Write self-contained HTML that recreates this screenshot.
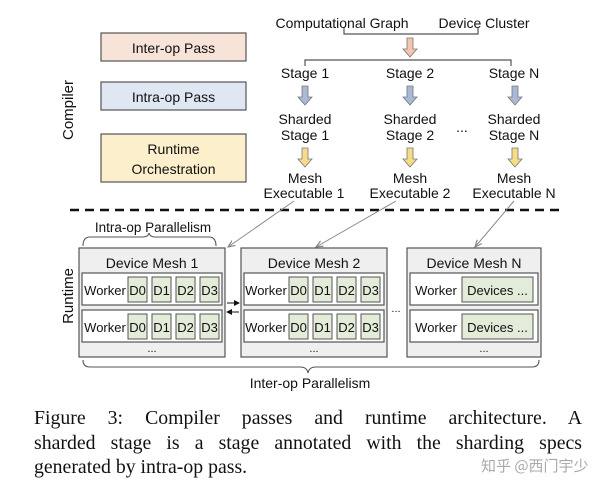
<!DOCTYPE html>
<html><head><meta charset="utf-8"><style>
body{margin:0;background:#fff;width:600px;height:491px;overflow:hidden;position:relative}
svg{position:absolute;left:0;top:0}
svg text{font-family:"Liberation Sans",sans-serif;fill:#111}
.cap{position:absolute;left:34px;width:548px;font-family:"Liberation Serif",serif;font-size:19.8px;color:#111;text-align:justify;text-align-last:justify;line-height:24.5px;top:406px}
.wm{position:absolute;left:481px;top:455px;font-family:"Noto Sans CJK SC",sans-serif;font-size:15px;color:#aaa}
</style></head><body>
<svg width="600" height="491" viewBox="0 0 600 491">
<defs>
<marker id="ah" markerWidth="8" markerHeight="8" refX="7" refY="4" orient="auto" markerUnits="userSpaceOnUse"><path d="M0,1 L7,4 L0,7" fill="none" stroke="#888" stroke-width="1.2"/></marker>
<marker id="bk" markerWidth="6" markerHeight="6" refX="5" refY="3" orient="auto" markerUnits="userSpaceOnUse"><path d="M0,0 L6,3 L0,6z" fill="#111"/></marker>
<g id="ao"><path d="M-3,0 h6 v11 h4 l-7,8 l-7,-8 h4z" fill="#f2c6ac" stroke="#777" stroke-width="0.8"/></g>
<g id="ab"><path d="M-3,0 h6 v11 h4 l-7,8 l-7,-8 h4z" fill="#a9b9d6" stroke="#777" stroke-width="0.8"/></g>
<g id="ay"><path d="M-3,0 h6 v11 h4 l-7,8 l-7,-8 h4z" fill="#f6dc88" stroke="#777" stroke-width="0.8"/></g>
</defs>
<rect x="101" y="33" width="145" height="28" fill="#f7e3d8" stroke="#555" stroke-width="1.2"/>
<text x="173.5" y="53" font-size="14" text-anchor="middle">Inter-op Pass</text>
<rect x="101" y="82" width="145" height="28" fill="#dfe7f3" stroke="#555" stroke-width="1.2"/>
<text x="173.5" y="102" font-size="14" text-anchor="middle">Intra-op Pass</text>
<rect x="101" y="134" width="145" height="48" fill="#fbefcc" stroke="#555" stroke-width="1.2"/>
<text x="173.5" y="154" font-size="14" text-anchor="middle">Runtime</text>
<text x="173.5" y="174" font-size="14" text-anchor="middle">Orchestration</text>
<text transform="translate(73,110) rotate(-90)" font-size="15" text-anchor="middle">Compiler</text>
<text transform="translate(73,296) rotate(-90)" font-size="15" text-anchor="middle">Runtime</text>
<text x="342" y="28" font-size="14" text-anchor="middle">Computational Graph</text>
<text x="484" y="28" font-size="14" text-anchor="middle">Device Cluster</text>
<path d="M344,28 V34 H478 V28" fill="none" stroke="#555" stroke-width="1.2"/>
<use href="#ao" x="410" y="38"/>
<path d="M305,66 V60 H511 V66" fill="none" stroke="#555" stroke-width="1.2"/>
<g font-size="14" text-anchor="middle">
<text x="305" y="78">Stage 1</text><text x="410" y="78">Stage 2</text><text x="514" y="78">Stage N</text>
<text x="305" y="124">Sharded</text><text x="305" y="140">Stage 1</text>
<text x="410" y="124">Sharded</text><text x="410" y="140">Stage 2</text>
<text x="514" y="124">Sharded</text><text x="514" y="140">Stage N</text>
<text x="462" y="132">...</text>
<text x="305" y="183">Mesh</text><text x="304" y="198">Executable 1</text>
<text x="410" y="183">Mesh</text><text x="410" y="198">Executable 2</text>
<text x="514" y="183">Mesh</text><text x="514" y="198">Executable N</text>
</g>
<use href="#ab" x="305" y="86"/><use href="#ab" x="410" y="86"/><use href="#ab" x="515" y="86"/>
<use href="#ay" x="305" y="148"/><use href="#ay" x="410" y="148"/><use href="#ay" x="515" y="148"/>
<line x1="70" y1="210" x2="563" y2="210" stroke="#111" stroke-width="2.5" stroke-dasharray="9,6"/>
<line x1="294" y1="201" x2="228" y2="247" stroke="#888" stroke-width="1" marker-end="url(#ah)"/>
<line x1="396" y1="201" x2="316" y2="247" stroke="#888" stroke-width="1" marker-end="url(#ah)"/>
<line x1="514" y1="201" x2="475" y2="247" stroke="#888" stroke-width="1" marker-end="url(#ah)"/>
<text x="153" y="232" font-size="13.5" text-anchor="middle">Intra-op Parallelism</text>
<path d="M83,246 Q83,237 90,237 H143 Q148,237 149,233 Q150,237 155,237 H209 Q216,237 216,246" fill="none" stroke="#555" stroke-width="1.1"/>
<g stroke="#555" stroke-width="1.2">
<rect x="79" y="248" width="146" height="109" fill="#efefef"/>
<rect x="241" y="248" width="146" height="109" fill="#efefef"/>
<rect x="407" y="248" width="134" height="109" fill="#efefef"/>
<rect x="82" y="273" width="140" height="32" fill="#fff"/><rect x="82" y="310" width="140" height="32" fill="#fff"/>
<rect x="244" y="273" width="140" height="32" fill="#fff"/><rect x="244" y="310" width="140" height="32" fill="#fff"/>
<rect x="410" y="273" width="128" height="32" fill="#fff"/><rect x="410" y="310" width="128" height="32" fill="#fff"/>
</g>
<g stroke="#555" stroke-width="1" fill="#e2ecd8">
<rect x="128" y="277" width="19" height="25"/><rect x="152" y="277" width="19" height="25"/><rect x="176" y="277" width="19" height="25"/><rect x="200" y="277" width="19" height="25"/>
<rect x="128" y="314" width="19" height="25"/><rect x="152" y="314" width="19" height="25"/><rect x="176" y="314" width="19" height="25"/><rect x="200" y="314" width="19" height="25"/>
<rect x="289" y="277" width="19" height="25"/><rect x="313" y="277" width="19" height="25"/><rect x="337" y="277" width="19" height="25"/><rect x="361" y="277" width="19" height="25"/>
<rect x="289" y="314" width="19" height="25"/><rect x="313" y="314" width="19" height="25"/><rect x="337" y="314" width="19" height="25"/><rect x="361" y="314" width="19" height="25"/>
<rect x="462" y="277" width="71" height="25"/><rect x="462" y="314" width="71" height="25"/>
</g>
<g font-size="14" text-anchor="middle">
<text x="152" y="268">Device Mesh 1</text><text x="314" y="268">Device Mesh 2</text><text x="474" y="268">Device Mesh N</text>
</g>
<g font-size="13" text-anchor="middle">
<text x="105" y="295">Worker</text><text x="105" y="332">Worker</text>
<text x="266" y="295">Worker</text><text x="266" y="332">Worker</text>
<text x="436" y="295">Worker</text><text x="436" y="332">Worker</text>
<text x="137.5" y="295">D0</text><text x="161.5" y="295">D1</text><text x="185.5" y="295">D2</text><text x="209.5" y="295">D3</text>
<text x="137.5" y="332">D0</text><text x="161.5" y="332">D1</text><text x="185.5" y="332">D2</text><text x="209.5" y="332">D3</text>
<text x="298.5" y="295">D0</text><text x="322.5" y="295">D1</text><text x="346.5" y="295">D2</text><text x="370.5" y="295">D3</text>
<text x="298.5" y="332">D0</text><text x="322.5" y="332">D1</text><text x="346.5" y="332">D2</text><text x="370.5" y="332">D3</text>
<text x="497.5" y="295">Devices ...</text><text x="497.5" y="332">Devices ...</text>
<text x="152" y="352" font-size="11">...</text><text x="314" y="352" font-size="11">...</text><text x="484" y="352" font-size="11">...</text>
<text x="396" y="312" font-size="11">...</text>
</g>
<line x1="227" y1="303" x2="239" y2="303" stroke="#111" stroke-width="1" marker-end="url(#bk)"/>
<line x1="239" y1="312" x2="227" y2="312" stroke="#111" stroke-width="1" marker-end="url(#bk)"/>
<path d="M83,360 Q83,367 90,367 H300 Q307,367 308,373 Q309,367 316,367 H532 Q539,367 539,360" fill="none" stroke="#555" stroke-width="1.1"/>
<text x="310" y="388" font-size="14" text-anchor="middle">Inter-op Parallelism</text>
</svg>
<div class="cap">Figure 3: Compiler passes and runtime architecture. A<br>sharded stage is a stage annotated with the sharding specs</div>
<div class="cap" style="top:455px;text-align:left;text-align-last:left">generated by intra-op pass.</div>
<div class="wm">知乎 @西门宇少</div>
</body></html>
